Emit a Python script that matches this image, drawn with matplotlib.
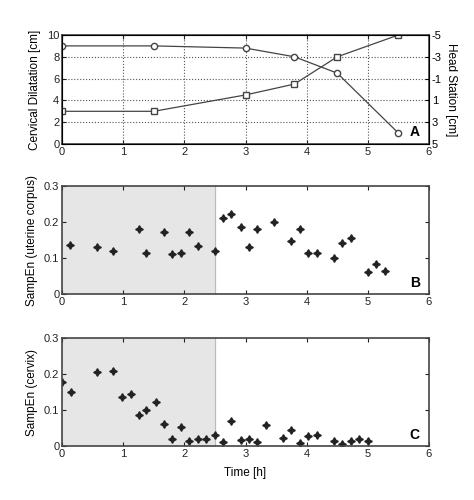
import matplotlib
matplotlib.use("Agg")
import matplotlib.pyplot as plt

plt.rcParams['font.family'] = ['Liberation Sans', 'DejaVu Sans']
plt.rcParams['font.size'] = 8
plt.rcParams['axes.unicode_minus'] = False

t_dil = [0, 1.5, 3, 3.8, 4.5, 5.5]
dilatation = [9, 9, 8.8, 8, 6.5, 1]
t_head = [0, 1.5, 3, 3.8, 4.5, 5.5]
head_station = [2, 2, 0.5, -0.5, -3, -5]

tB = [0.13,0.57,0.83,1.25,1.38,1.67,1.8,1.95,2.08,2.22,2.5,2.63,2.77,2.92,3.05,3.19,3.47,3.75,3.89,4.02,4.17,4.44,4.58,4.72,5.0,5.14,5.28]
sB = [0.137,0.13,0.12,0.18,0.113,0.171,0.111,0.113,0.173,0.134,0.12,0.212,0.222,0.186,0.13,0.181,0.2,0.148,0.181,0.113,0.113,0.099,0.142,0.156,0.06,0.084,0.065]
tC = [0,0.14,0.57,0.83,0.98,1.12,1.25,1.38,1.53,1.67,1.8,1.95,2.08,2.22,2.36,2.5,2.63,2.77,2.92,3.05,3.19,3.33,3.61,3.75,3.89,4.02,4.17,4.44,4.58,4.72,4.86,5.0]
sC = [0.178,0.15,0.206,0.208,0.137,0.145,0.085,0.1,0.122,0.06,0.02,0.052,0.014,0.02,0.019,0.031,0.01,0.069,0.016,0.019,0.012,0.058,0.022,0.044,0.008,0.027,0.03,0.014,0.005,0.014,0.019,0.014]
shade_end = 2.5

fig = plt.figure(figsize=(4.74, 5.0), dpi=100)
col = '#444444'

def style(ax):
    ax.tick_params(direction='in', length=3, top=True, right=True, colors='#222222', pad=2)
    for s in ax.spines.values():
        s.set_color('#444444')
        s.set_linewidth(1.2)

axA = fig.add_axes([0.131, 0.712, 0.774, 0.218])
axA.plot(t_dil, dilatation, '-o', color=col, mfc='white', ms=4.5, lw=0.9)
axA.set_xlim(0, 6); axA.set_ylim(0, 10)
axA.set_yticks([0, 2, 4, 6, 8, 10])
axA.grid(True, linestyle=':', color='#555555', lw=0.8)
axA.set_ylabel('Cervical Dilatation [cm]', fontsize=8.5)
style(axA)
axA.tick_params(right=False)
axA2 = axA.twinx()
axA2.plot(t_head, head_station, '-s', color=col, mfc='white', ms=4.5, lw=0.9)
axA2.set_ylim(5, -5)
axA2.set_yticks([5, 3, 1, -1, -3, -5])
axA2.set_ylabel('Head Station [cm]', rotation=270, labelpad=11, fontsize=8.5)
axA2.tick_params(direction='in', length=3, pad=2)
axA.text(5.85, 0.7, 'A', fontweight='bold', fontsize=10, ha='right')

def panel(rect, t, s, label, ylabel, xlabel=None):
    ax = fig.add_axes(rect)
    ax.axvspan(0, shade_end, color='#e6e6e6', zorder=0)
    ax.axvline(shade_end, color='#bbbbbb', lw=0.8, zorder=0)
    ax.plot(t, s, linestyle='none', marker=(4, 1, 0), color='#222222', ms=5.5)
    ax.set_xlim(0, 6); ax.set_ylim(0, 0.3)
    ax.set_yticks([0, 0.1, 0.2, 0.3])
    ax.set_yticklabels(['0', '0.1', '0.2', '0.3'])
    ax.set_ylabel(ylabel, fontsize=8.5)
    if xlabel:
        ax.set_xlabel(xlabel, labelpad=6, fontsize=8.5)
    ax.text(5.85, 0.02, label, fontweight='bold', fontsize=10, ha='right')
    style(ax)
    return ax

panel([0.131, 0.412, 0.774, 0.216], tB, sB, 'B', 'SampEn (uterine corpus)')
panel([0.131, 0.108, 0.774, 0.216], tC, sC, 'C', 'SampEn (cervix)', 'Time [h]')

fig.savefig('out.png', dpi=100)
